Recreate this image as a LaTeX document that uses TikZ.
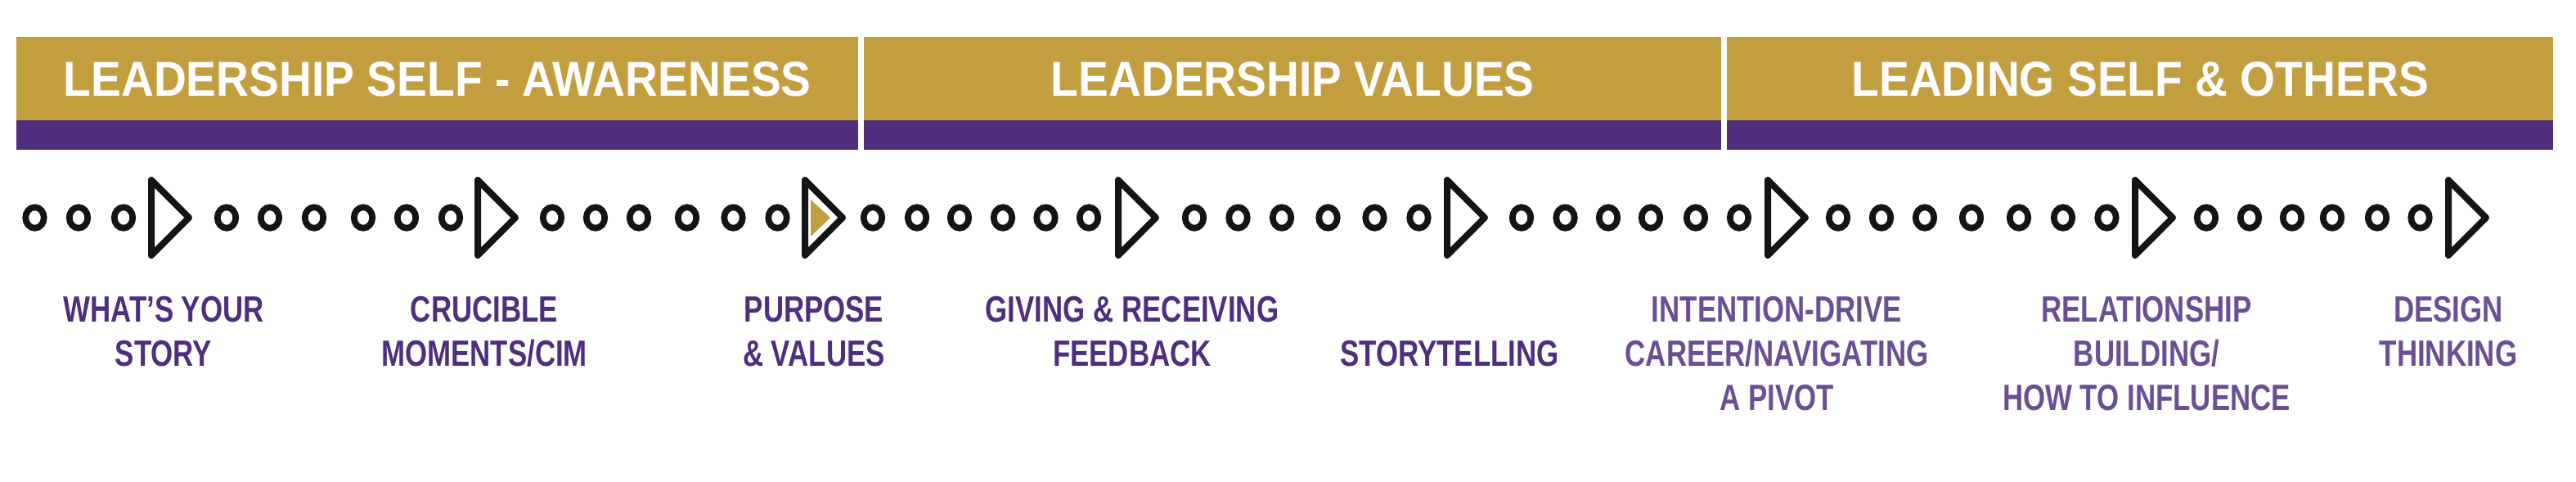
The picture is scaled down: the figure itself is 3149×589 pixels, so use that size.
\documentclass[tikz,border=0pt]{standalone}
\usepackage{fontspec}
\newfontfamily\bannerfont[FakeStretch=0.92]{Liberation Sans}
\newfontfamily\labelfont[FakeStretch=0.78]{Liberation Sans}
\definecolor{gold}{HTML}{C29E3F}
\definecolor{bandpurple}{HTML}{4F2D7F}
\definecolor{darkpurple}{HTML}{4F2D7F}
\definecolor{lightpurple}{HTML}{6B4F94}
\definecolor{ink}{HTML}{141414}
\begin{document}
\begin{tikzpicture}[x=1pt,y=-1pt,
  goldbar/.style={fill=gold, draw=none, inner sep=0pt, anchor=north west, text=white,
    font={\bannerfont\bfseries\fontsize{60}{72}\selectfont}, text height=43pt, text depth=0pt,
    minimum height=102pt},
  purplebar/.style={fill=bandpurple, draw=none, inner sep=0pt, anchor=north west, minimum height=36pt},
  ring/.style={draw=ink, line width=7.75pt},
  tri/.style={draw=ink, line width=8pt, line join=round},
  lbl/.style={anchor=north, inner sep=0pt, align=center,
    font={\labelfont\bfseries\fontsize{44.7}{54}\selectfont}},
  lbldark/.style={lbl, text=darkpurple},
  lbllight/.style={lbl, text=lightpurple}]
\useasboundingbox (0,0) rectangle (3149,589);
\fill[white] (0,0) rectangle (3149,589);

% banners
\node[goldbar, minimum width=1029pt] (b1) at (20,45) {LEADERSHIP SELF - AWARENESS};
\node[goldbar, minimum width=1048pt] (b2) at (1056,45) {LEADERSHIP VALUES};
\node[goldbar, minimum width=1010pt] (b3) at (2111,45) {LEADING SELF \& OTHERS};
\node[purplebar, minimum width=1029pt] (p1) at (20,147) {};
\node[purplebar, minimum width=1048pt] (p2) at (1056,147) {};
\node[purplebar, minimum width=1010pt] (p3) at (2111,147) {};

% rings
\foreach \cx in {42.5,96,151,
  277,330,384,444,497,551,
  675,728,781,840,896.5,950.5,
  1067,1121,1173,1226,1278.5,1331,
  1460,1513.5,1567,1623.5,1680.5,1734.5,
  1860,1913.5,1966,2018,2073,2126,
  2247,2300,2353,2410,2468,2522,2575.5,
  2697,2750,2802,2851,2906,2958.5}
  \draw[ring] (\cx,266) ellipse [x radius=11.25, y radius=12.75];

% triangles
\foreach \L [count=\i] in {181,580,980,1363,1765,2157,2606,2989} {
  \draw[tri] (\L+4,220) -- (\L+50,266) -- (\L+4,312) -- cycle;
  \coordinate (t\i) at (\L+27,266);
}
\fill[gold] (991,244) -- (1015,266) -- (991,289) -- cycle;

% labels
\node[lbldark] (l1) at (200,362) {WHAT’S YOUR\\STORY};
\node[lbldark] (l2) at (592,362) {CRUCIBLE\\MOMENTS/CIM};
\node[lbldark] (l3) at (995,362) {PURPOSE\\\& VALUES};
\node[lbldark] (l4) at (1384,362) {GIVING \& RECEIVING\\FEEDBACK};
\node[lbldark] (l5) at (1772,416) {STORYTELLING};
\node[lbllight] (l6) at (2172,362) {INTENTION-DRIVE\\CAREER/NAVIGATING\\A PIVOT};
\node[lbllight] (l7) at (2624,362) {RELATIONSHIP\\BUILDING/\\HOW TO INFLUENCE};
\node[lbllight] (l8) at (2993,362) {DESIGN\\THINKING};
\end{tikzpicture}
\end{document}
